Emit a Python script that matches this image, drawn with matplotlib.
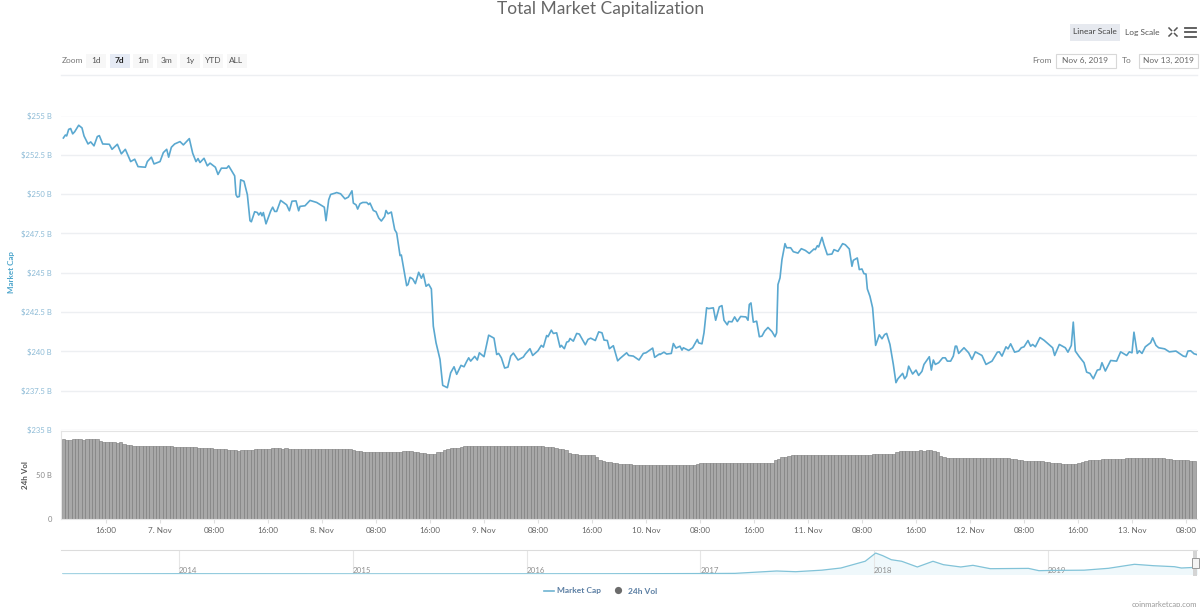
from matplotlib import pyplot as plt
from matplotlib.patches import Rectangle, Circle
import numpy as np

plt.rcParams['font.family'] = ['Lato', 'DejaVu Sans']

# hours since 6 Nov 00:00, market cap in $B
cap_hours = [
    9.68, 9.98, 10.17, 10.47, 10.76, 11.06, 11.36, 11.95, 12.44, 12.74, 13.33, 13.73, 14.22, 14.71, 15.01, 15.51,
    16.49, 16.89, 17.68, 18.27, 18.86, 19.65, 20.25, 20.74, 21.83, 22.12, 22.72, 23.11, 24.00, 24.49, 24.99, 25.28,
    25.68, 26.17, 26.96, 27.46, 28.34, 28.84, 29.33, 29.63, 29.92, 30.52, 31.01, 31.41, 32.20, 32.59, 33.09, 33.88,
    34.17, 35.06, 35.26, 35.46, 35.75, 35.95, 36.44, 36.94, 37.33, 37.53, 38.02, 38.42, 38.62, 38.91, 39.11, 39.31,
    39.70, 40.39, 40.69, 40.99, 41.28, 41.87, 42.76, 43.16, 43.55, 44.15, 44.54, 44.74, 45.48, 46.22, 47.21, 48.34,
    48.59, 48.99, 49.28, 49.92, 50.17, 50.76, 51.40, 51.90, 52.44, 52.64, 53.04, 53.28,
    53.63, 54.03, 54.62, 54.91, 55.11, 55.60, 56.00, 56.40, 56.79, 57.28, 57.48, 57.78, 58.27, 58.77, 59.06, 59.56,
    59.75, 60.54, 60.74, 61.04, 61.43, 61.83, 62.32, 62.72, 63.01, 63.41, 63.80, 64.20, 64.49, 64.89, 65.48, 65.88,
    66.57, 67.06, 67.56, 67.95, 68.59, 69.04, 69.43, 69.73, 70.02, 70.62, 71.01, 71.31, 72.00, 72.69, 73.48, 73.88,
    74.17, 74.57, 75.06, 75.55, 75.95, 76.35, 77.04, 77.83, 78.12, 78.81, 79.21, 80.00, 80.49, 80.79, 81.28, 81.48,
    81.97, 82.27, 82.76, 83.26, 83.46, 83.90, 84.25, 84.54, 84.74, 85.23, 85.73, 86.12, 87.01, 87.41, 87.80, 88.49,
    88.99, 89.48, 89.78, 90.27, 90.57, 91.16, 91.80, 92.15, 93.13, 93.43, 94.12, 94.96, 95.60, 96.00, 96.99, 97.28,
    97.97,
    98.07, 98.66, 99.06, 99.75, 100.05, 100.44, 101.03, 101.33, 101.53, 102.32, 102.91, 103.60, 103.80, 104.29,
    104.59, 104.98, 105.28, 105.97, 106.32, 106.86, 107.25, 107.55, 108.04, 108.24, 108.74, 109.13, 109.53, 110.02,
    110.81, 111.11, 111.30, 111.55, 111.90, 112.39, 112.79, 113.18, 113.58, 114.07, 114.66, 115.11, 115.35, 115.55,
    115.85, 116.14, 116.59, 116.83, 117.43, 117.82, 118.51, 119.01, 119.60, 120.19, 120.88, 121.08, 121.38, 121.58,
    122.07, 122.37, 122.86, 123.55, 123.85, 124.44, 125.13, 125.53, 126.12, 126.51, 126.71, 127.30, 127.60, 127.99,
    128.29, 128.59, 128.79, 129.18, 129.57, 130.02, 130.56, 130.96, 131.35, 131.65, 132.14, 132.64, 133.03, 133.33,
    134.02, 134.31, 134.61, 134.91, 135.50, 136.00, 136.39, 136.88, 137.18, 137.48, 137.97,
    138.27, 138.57, 138.86, 139.36, 139.95, 140.34, 140.64, 141.13, 141.53, 141.82, 142.02, 142.32, 143.11, 143.80,
    144.29, 144.79, 145.77, 146.37, 147.26, 148.05, 148.34, 148.74, 149.33, 149.63, 150.02, 150.61, 151.21, 151.60,
    152.00, 152.59, 152.98, 153.28, 153.68, 154.37, 154.96, 155.85, 156.24, 156.54, 157.23, 158.12, 158.51, 159.01,
    159.30, 159.60, 160.19, 160.89, 161.28, 161.77, 162.27, 162.86, 163.26, 163.55, 164.05, 164.84, 165.72, 166.32,
    167.21, 167.60, 168.00, 168.29, 168.78, 169.08, 169.48, 169.97, 170.76, 171.06, 171.55, 171.95, 172.84, 173.53,
    174.51, 175.60, 175.99, 176.29, 176.69, 177.18, 177.57,
]
cap_values = [
    253.57, 253.76, 253.70, 254.12, 254.17, 253.83, 253.97, 254.38, 254.21, 253.70, 253.19, 253.32, 253.07, 253.66, 253.72, 253.19,
    253.17, 252.85, 253.17, 252.56, 252.85, 252.07, 252.22, 251.75, 251.71, 252.07, 252.35, 251.92, 252.07, 252.64, 252.85, 252.35,
    252.98, 253.19, 253.34, 253.13, 253.53, 252.60, 252.07, 252.26, 252.01, 252.28, 251.80, 251.97, 251.71, 251.25, 251.65, 251.65,
    251.80, 251.16, 249.96, 249.81, 249.85, 250.91, 250.82, 249.96, 248.31, 248.24, 248.88, 248.83, 248.67, 248.83, 248.62, 248.83,
    248.11, 248.92, 249.17, 248.90, 248.90, 249.60, 249.32, 248.94, 249.55, 249.57, 248.94, 249.22, 249.26, 249.60, 249.47, 249.17,
    248.31, 249.64, 249.98, 250.06, 250.10, 250.02, 249.70, 249.81, 250.21, 249.43, 249.32, 249.05,
    249.39, 249.47, 249.47, 249.34, 249.43, 248.96, 248.88, 248.48, 248.29, 248.58, 248.96, 248.75, 248.86, 247.74, 247.53, 246.09,
    246.13, 244.18, 244.25, 244.71, 244.61, 244.31, 245.03, 244.65, 244.92, 244.14, 244.27, 243.97, 241.60, 240.55, 239.49, 237.84,
    237.69, 238.64, 239.02, 238.54, 239.11, 239.02, 239.36, 239.59, 239.38, 239.68, 239.45, 239.91, 239.66, 241.03, 240.84, 239.80,
    239.87, 239.59, 238.94, 239.00, 239.70, 239.89, 239.45, 239.64, 239.83, 240.17, 239.74, 240.04, 240.38, 240.27, 241.01, 240.93,
    241.35, 241.14, 241.18, 240.27, 240.38, 240.17, 240.59, 240.63, 240.82, 240.65, 241.14, 241.10, 240.42, 240.76, 240.84, 240.69,
    241.24, 241.18, 240.72, 240.69, 240.17, 240.36, 239.40, 239.55, 239.91, 239.74, 239.70, 239.45, 239.87, 239.91, 240.21, 239.62,
    239.83,
    239.80, 239.95, 239.83, 239.87, 240.50, 240.21, 240.33, 240.08, 240.23, 240.06, 240.23, 240.76, 240.54, 240.48,
    241.18, 242.77, 242.72, 242.77, 241.98, 242.83, 242.91, 241.98, 241.69, 241.90, 241.88, 242.19, 241.90, 242.22,
    242.19, 241.98, 242.98, 243.08, 241.86, 241.92, 240.93, 240.97, 241.29, 241.52, 241.26, 240.93, 241.18, 244.25,
    244.67, 245.83, 246.85, 246.59, 246.59, 246.34, 246.25, 246.53, 246.42, 246.23, 246.51, 246.47, 246.72, 246.64,
    247.25, 246.78, 246.15, 246.19, 246.47, 246.36, 246.85, 246.78, 246.51, 245.41, 245.79, 245.94, 245.20, 245.24,
    244.94, 244.92, 243.97, 243.50, 242.77, 240.38, 241.05, 240.80, 241.07, 241.14, 240.44, 239.17, 238.01, 238.26,
    238.60, 238.26, 238.43, 239.06, 238.56, 238.81, 238.47, 238.73, 239.17, 239.36, 239.66,
    238.81, 239.45, 239.17, 239.28, 239.59, 239.59, 239.38, 239.38, 239.70, 240.33, 240.33, 239.87, 240.23, 239.91,
    239.49, 239.97, 239.74, 239.17, 239.38, 239.95, 239.97, 239.70, 240.29, 240.16, 240.48, 239.95, 240.02, 240.23,
    240.29, 240.69, 240.33, 240.44, 240.29, 240.88, 240.71, 240.38, 240.23, 239.74, 240.44, 240.23, 239.95, 240.38,
    241.86, 240.02, 239.66, 239.28, 238.68, 238.60, 238.26, 238.81, 238.85, 239.28, 238.75, 239.42, 239.38, 239.97,
    239.74, 239.97, 239.91, 241.22, 239.87, 240.04, 239.87, 240.29, 240.55, 240.86, 240.38, 240.23, 240.16, 239.97,
    240.02, 239.70, 239.66, 240.02, 240.04, 239.85, 239.80,
]

# half-hourly 24h volume in $B, one row per 5 hours
vol_values = [
    90.6, 90.2, 90.3, 90.6, 90.8, 90.4, 90.2, 90.6, 90.7, 90.5,
    90.4, 88.2, 88.0, 87.9, 87.6, 87.4, 86.2, 87.0, 85.6, 84.4,
    83.6, 83.4, 83.2, 83.2, 83.0, 83.1, 82.8, 82.6, 82.7, 82.5,
    82.4, 82.6, 82.5, 82.2, 82.0, 81.8, 81.6, 81.8, 81.7, 81.5,
    81.2, 81.0, 80.8, 80.4, 80.2, 80.0, 79.8, 79.6, 79.2, 78.6,
    78.2, 78.0, 77.8, 78.2, 78.4, 78.2, 78.6, 79.0, 79.4, 79.6,
    79.8, 80.0, 80.2, 80.4, 80.2, 80.0, 80.2, 80.0, 79.8, 79.6,
    79.6, 79.8, 79.6, 79.8, 79.4, 79.2, 79.4, 79.8, 80.0, 80.0,
    79.4, 79.6, 79.5, 79.3, 79.4, 79.2, 78.5, 77.8, 77.0, 76.6,
    76.4, 76.6, 76.4, 76.6, 76.5, 76.3, 76.2, 76.0, 76.2, 76.4,
    76.6, 77.0, 77.4, 77.0, 76.2, 75.6, 75.2, 74.8, 74.2, 73.6,
    74.2, 75.6, 76.6, 78.6, 79.8, 80.6, 80.8, 81.0, 81.4, 82.4,
    83.0, 83.2, 83.4, 83.2, 83.4, 83.3, 83.2, 83.4, 83.2, 83.2,
    83.0, 82.8, 82.8, 82.8, 82.9, 82.7, 82.8, 82.7, 82.8, 82.6,
    82.6, 82.6, 82.4, 82.2, 82.2, 81.9, 81.0, 80.0, 79.2, 78.4,
    75.0, 74.0, 73.4, 73.2, 73.2, 73.0, 72.8, 72.4, 70.0, 67.0,
    66.0, 65.0, 64.4, 63.6, 63.2, 63.0, 62.8, 62.4, 62.0, 61.8,
    61.6, 61.6, 61.5, 61.5, 61.4, 61.5, 61.4, 61.4, 61.5, 61.4,
    61.4, 61.4, 61.5, 61.4, 61.4, 61.5, 61.6, 61.8, 62.8, 63.6,
    64.0, 64.2, 64.0, 64.2, 64.0, 64.0, 64.2, 64.1, 64.0, 64.2,
    64.2, 64.1, 64.0, 64.2, 64.1, 64.0, 64.2, 64.0, 64.1, 64.0,
    64.0, 67.0, 68.5, 70.0, 71.0, 72.0, 72.2, 72.4, 72.5, 72.4,
    72.6, 72.5, 72.6, 72.7, 72.6, 72.5, 72.6, 72.7, 72.6, 72.7,
    72.8, 72.7, 72.8, 73.0, 72.9, 73.0, 72.9, 73.1, 73.0, 73.2,
    73.4, 73.3, 73.5, 73.4, 73.6, 73.8, 74.0, 76.5, 77.2, 77.5,
    77.6, 77.7, 77.8, 77.7, 77.9, 77.8, 78.0, 78.0, 77.4, 76.0,
    72.0, 70.0, 69.6, 69.2, 69.4, 69.3, 69.5, 69.4, 69.3, 69.5,
    69.2, 69.3, 69.2, 69.0, 69.1, 69.2, 69.3, 69.4, 69.3, 69.4,
    69.0, 68.4, 68.0, 67.4, 67.0, 66.4, 66.0, 66.0, 65.9, 65.8,
    65.6, 65.0, 64.6, 64.2, 63.8, 63.4, 63.0, 62.6, 62.2, 62.0,
    62.4, 64.0, 65.0, 66.0, 66.5, 67.0, 67.6, 67.4, 67.8, 67.8,
    68.0, 68.2, 68.2, 68.4, 68.6, 68.8, 69.0, 69.2, 69.5, 69.6,
    69.4, 69.5, 69.3, 69.2, 69.1, 69.0, 68.8, 68.6, 68.0, 67.6,
    67.0, 66.8, 66.6, 66.5, 66.4, 66.2,
]

x_tick_hours = [16, 24, 32, 40, 48, 56, 64, 72, 80, 88, 96, 104, 112, 120, 128, 136, 144, 152, 160, 168, 176]
x_tick_labels = ['16:00', '7. Nov', '08:00', '16:00', '8. Nov', '08:00', '16:00', '9. Nov', '08:00', '16:00',
                 '10. Nov', '08:00', '16:00', '11. Nov', '08:00', '16:00', '12. Nov', '08:00', '16:00', '13. Nov', '08:00']
cap_ticks = [235, 237.5, 240, 242.5, 245, 247.5, 250, 252.5, 255]
cap_tick_labels = ['$235 B', '$237.5 B', '$240 B', '$242.5 B', '$245 B', '$247.5 B', '$250 B', '$252.5 B', '$255 B']

# navigator: whole history of the market cap
nav_years = [2013.33, 2014.0, 2014.2, 2014.5, 2015.0, 2015.5, 2016.0, 2016.5, 2017.0, 2017.2, 2017.44, 2017.55, 2017.7,
             2017.81, 2017.95, 2018.01, 2018.05, 2018.1, 2018.16, 2018.25, 2018.34, 2018.4, 2018.5, 2018.57, 2018.67,
             2018.89, 2018.95, 2019.02, 2019.21, 2019.35, 2019.5, 2019.61, 2019.73, 2019.77, 2019.86]
nav_values = [2, 10, 8, 7, 5, 5, 7, 10, 18, 25, 118, 90, 150, 235, 500, 820, 720, 560, 498, 275, 498, 365, 275, 340,
              208, 220, 130, 140, 150, 223, 380, 325, 286, 235, 263]
nav_ticks = [2014, 2015, 2016, 2017, 2018, 2019]

BLUE = '#5aa8d0'
GRID = '#edeff2'
LABEL = '#666666'


def place(x0, y0, x1, y1):
    return fig.add_axes([x0 / 1200, 1 - y1 / 607, (x1 - x0) / 1200, (y1 - y0) / 607])


fig = plt.figure(figsize=(12, 6.07), dpi=100)

# main price panel
ax = place(61, 115.5, 1197, 430)
ax.plot(cap_hours, cap_values, color=BLUE, lw=1.2)
ax.set_xlim(9.33, 177.63)
ax.set_ylim(235, 255)
ax.set_yticks(cap_ticks, cap_tick_labels)
ax.set_xticks([])
ax.tick_params(axis='y', length=0, pad=6.5, labelsize=5.5, labelcolor='#8dbbd6')
ax.grid(axis='y', color=GRID, lw=1)
ax.set_axisbelow(True)
for s in ax.spines.values():
    s.set_visible(False)
ax.patch.set_alpha(0)

# volume panel
vol = place(61, 431, 1197, 519)
vol_hours = 9.67 + 0.5 * np.arange(len(vol_values))
vol.bar(vol_hours, vol_values, width=0.5, facecolor='#a8a8a8', edgecolor='#777777', linewidth=0.4)
vol.set_xlim(9.33, 177.63)
vol.set_ylim(0, 100)
vol.set_yticks([0, 50], ['0', '50 B'])
vol.set_xticks(x_tick_hours, x_tick_labels)
vol.tick_params(axis='y', length=0, pad=6.5, labelsize=5.5, labelcolor='#8a8a8a')
vol.tick_params(axis='x', length=3, width=0.8, color='#e0e0e0', pad=3, labelsize=5.9, labelcolor=LABEL)
for name in ['top', 'left', 'bottom']:
    vol.spines[name].set_color('#e4e4e4')
vol.spines['right'].set_visible(False)

# navigator
nav = place(61, 550, 1197, 574)
nav.fill_between(nav_years, nav_values, color='#eff8fb')
nav.plot(nav_years, nav_values, color='#82c3d8', lw=0.9)
nav.set_xlim(2013.32, 2019.86)
nav.set_ylim(0, 940)
nav.set_yticks([])
nav.set_xticks(nav_ticks, [str(y) for y in nav_ticks], ha='left')
nav.tick_params(axis='x', direction='in', length=0, pad=-5, labelsize=5.7, labelcolor='#909090')
nav.grid(axis='x', color='#e6e6e6', lw=0.8)
for s in nav.spines.values():
    s.set_visible(False)
nav.spines['top'].set_visible(True)
nav.spines['top'].set_color('#dcdcdc')

# page furniture, laid out in pixels
ui = fig.add_axes([0, 0, 1, 1], zorder=5)
ui.set_xlim(0, 1200)
ui.set_ylim(607, 0)
ui.axis('off')
ui.patch.set_alpha(0)


def label(x, y, s, size=6, color=LABEL, ha='center', **kw):
    ui.text(x, y, s, fontsize=size, color=color, ha=ha, va='center', **kw)


label(601, 9, 'Total Market Capitalization', size=12.5, color='#666666')
ui.plot([61, 1197], [75, 75], color=GRID, lw=1)

label(72, 60.5, 'Zoom', color='#777777')
zoom_names = ['1d', '7d', '1m', '3m', '1y', 'YTD', 'ALL']
zoom_left = [86, 109.5, 133, 156.5, 180, 203, 226.5]
for left, name in zip(zoom_left, zoom_names):
    on = name == '7d'
    ui.add_patch(Rectangle((left, 54), 20, 14, color='#e6ebf5' if on else '#f7f7f7', lw=0))
    label(left + 10, 60.5, name, color='#222222' if on else '#555555', fontweight='bold' if on else 'normal')

ui.add_patch(Rectangle((1070, 24), 50, 17, color='#e6e9ef', lw=0))
label(1095, 32, 'Linear Scale', color='#444444')
label(1142, 32, 'Log Scale', color='#555555')
for dx, dy in [(-1, -1), (1, -1), (-1, 1), (1, 1)]:
    ui.plot([1173 + 1.5 * dx, 1173 + 4 * dx], [32 + 1.5 * dy, 32 + 4 * dy], color='#555555', lw=1.1)
for y in [27.5, 32, 36.5]:
    ui.plot([1185, 1196], [y, y], color='#555555', lw=1.3)

label(1042, 60.5, 'From', color='#777777')
label(1127, 60.5, 'To', color='#777777')
ui.add_patch(Rectangle((1055.5, 54), 60, 14, fc='white', ec='#d8d8d8', lw=0.8))
ui.add_patch(Rectangle((1138.5, 54), 59.5, 14, fc='white', ec='#d8d8d8', lw=0.8))
label(1085.5, 60.5, 'Nov 6, 2019', color='#666666')
label(1168, 60.5, 'Nov 13, 2019', color='#666666')

label(12, 272, 'Market Cap', size=5.8, color='#4fa6cc', rotation=90, fontweight='bold')
label(25, 475, '24h Vol', size=5.8, color='#555555', rotation=90, fontweight='bold')

# navigator handle
ui.add_patch(Rectangle((1193, 551), 4, 25, color='#d4d4d4', lw=0))
ui.add_patch(Rectangle((1192, 558), 7, 10, fc='#f4f4f4', ec='#999999', lw=0.7))

# legend
ui.plot([544, 554], [591, 591], color='#6fb4d2', lw=1.2)
label(557, 591, 'Market Cap', color='#5b7ea3', ha='left', fontweight='bold')
ui.add_patch(Circle((618.5, 590.5), 3.6, color='#6b6b6b', lw=0))
label(628, 591, '24h Vol', color='#5b7ea3', ha='left', fontweight='bold')
label(1197, 604, 'coinmarketcap.com', size=5.5, color='#999999', ha='right')

plt.savefig('out.png', dpi=100)
